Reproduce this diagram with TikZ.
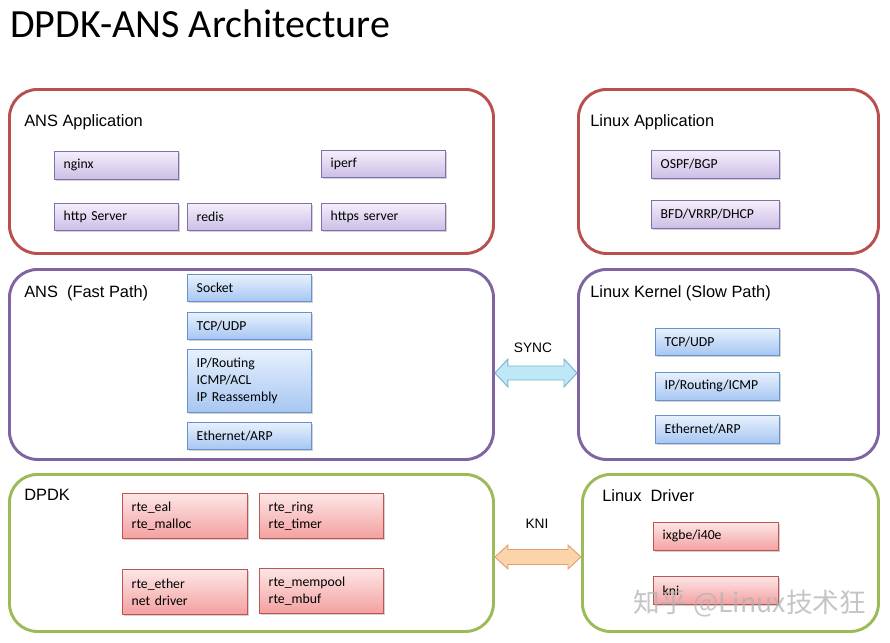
\documentclass[tikz,border=0pt]{standalone}
\usepackage{fontspec}
\setmainfont{Carlito}
\newfontfamily\arialf{Liberation Sans}
\newfontfamily\cjkf{Noto Sans CJK SC}
\usetikzlibrary{shadows,calc}
\definecolor{redB}{RGB}{185,80,78}
\definecolor{purB}{RGB}{128,100,162}
\definecolor{grnB}{RGB}{155,187,89}
\definecolor{pinB}{RGB}{130,112,170}
\definecolor{pinT}{RGB}{244,239,251}
\definecolor{pinM}{RGB}{204,190,230}
\definecolor{binB}{RGB}{105,145,205}
\definecolor{binT}{RGB}{232,241,253}
\definecolor{binM}{RGB}{166,198,242}
\definecolor{rinB}{RGB}{190,85,82}
\definecolor{rinT}{RGB}{253,230,230}
\definecolor{rinM}{RGB}{244,160,160}
\definecolor{syncF}{RGB}{190,232,246}
\definecolor{syncD}{RGB}{120,180,205}
\definecolor{kniF}{RGB}{251,212,172}
\definecolor{kniD}{RGB}{225,160,110}
\tikzset{
  big/.style={draw=#1, line width=2.2pt, rounded corners=21pt, anchor=north west},
  sz/.style 2 args={minimum width={#1*0.75pt}, minimum height={#2*0.75pt}, text width={#1*0.75pt-14pt}},
  inbox/.style={anchor=north west, inner xsep=7pt, inner ysep=0pt, align=left, font=\fontsize{10.3}{12.75}\selectfont,
     drop shadow={shadow xshift=1.2pt, shadow yshift=-1.2pt, opacity=0.35}},
  pbox/.style={inbox, draw=pinB, line width=0.6pt, top color=pinT, bottom color=pinM},
  bbox/.style={inbox, draw=binB, line width=0.6pt, top color=binT, bottom color=binM},
  rbox/.style={inbox, draw=rinB, line width=0.6pt, top color=rinT, bottom color=rinM},
  lbl/.style={anchor=west, font=\arialf\fontsize{12.3}{14}\selectfont, inner sep=0pt},
  alb/.style={font=\arialf\fontsize{10.3}{12}\selectfont, inner sep=0pt},
}
\begin{document}
\begin{tikzpicture}[x=0.75pt,y=-0.75pt]
\useasboundingbox (0,0) rectangle (890,643);
\fill[white] (0,0) rectangle (890,643);
\node[anchor=west, inner sep=0pt, font=\fontsize{30}{34}\selectfont] (title) at (10,24) {DPDK-ANS Architecture};

% big containers
\node[big=redB, minimum width=363pt, minimum height=123pt] (ansapp) at (8,88) {};
\node[big=redB, minimum width=225pt, minimum height=123pt] (linapp) at (577,88) {};
\node[big=purB, minimum width=363pt, minimum height=142.5pt] (ansfp) at (8,268) {};
\node[big=purB, minimum width=225pt, minimum height=142.5pt] (linker) at (577,268) {};
\node[big=grnB, minimum width=363pt, minimum height=117.75pt] (dpdk) at (8,473) {};
\node[big=grnB, minimum width=222pt, minimum height=117.75pt] (lindrv) at (581,473) {};

\node[lbl] (l1) at (24,122) {ANS Application};
\node[lbl] (l2) at (590,122) {Linux Application};
\node[lbl] (l3) at (24,293) {ANS\ \ (Fast Path)};
\node[lbl] (l4) at (590,293) {Linux Kernel (Slow Path)};
\node[lbl] (l5) at (24,495) {DPDK};
\node[lbl] (l6) at (602,496) {Linux\ \ Driver};

% ANS application
\node[pbox, sz={124}{28}] (nginx) at (54,151) {nginx};
\node[pbox, sz={124}{27}] (iperf) at (321,150) {iperf};
\node[pbox, sz={124}{27}] (http) at (54,203) {http Server};
\node[pbox, sz={124}{27}] (redis) at (187,203) {redis};
\node[pbox, sz={124}{27}] (https) at (321,203) {https server};
% Linux application
\node[pbox, sz={128}{28}] (ospf) at (651,150) {OSPF/BGP};
\node[pbox, sz={128}{28}] (bfd) at (651,200) {BFD/VRRP/DHCP};

% ANS fast path
\node[bbox, sz={124}{27}] (sock) at (187,274) {Socket};
\node[bbox, sz={124}{27}] (tcp1) at (187,312) {TCP/UDP};
\node[bbox, sz={124}{63}] (ip1) at (187,349) {IP/Routing\\ICMP/ACL\\IP Reassembly};
\node[bbox, sz={124}{27}] (eth1) at (187,422) {Ethernet/ARP};
% Linux kernel
\node[bbox, sz={124}{27}] (tcp2) at (655,328) {TCP/UDP};
\node[bbox, sz={124}{28}] (ip2) at (655,372) {IP/Routing/ICMP};
\node[bbox, sz={124}{28}] (eth2) at (655,415) {Ethernet/ARP};

% DPDK
\node[rbox, sz={125}{45}] (eal) at (122,493) {rte\_eal\\rte\_malloc};
\node[rbox, sz={124}{45}] (ring) at (259,493) {rte\_ring\\rte\_timer};
\node[rbox, sz={125}{45}] (ether) at (122,569) {rte\_ether\\net driver};
\node[rbox, sz={124}{45}] (mempool) at (259,568) {rte\_mempool\\rte\_mbuf};
% Linux driver
\node[rbox, sz={125}{28}] (ixgbe) at (653,522) {ixgbe/i40e};
\node[rbox, sz={125}{28}] (kni) at (653,576) {kni};

% SYNC arrow
\coordinate (s1) at (ansfp.east |- 0,373);
\coordinate (s2) at (linker.west |- 0,373);
\draw[fill=syncF, draw=syncD, line width=0.7pt, line join=miter]
  (s1) -- ++(13,-14) -- ++(0,7) -- ($(s2)+(-13,-7)$) -- ++(0,-7) -- (s2)
  -- ++(-13,14) -- ++(0,-7) -- ($(s1)+(13,7)$) -- ++(0,7) -- cycle;
\node[alb] (sync) at (533,348) {SYNC};

% KNI arrow
\coordinate (k1) at (dpdk.east |- 0,557);
\coordinate (k2) at (lindrv.west |- 0,557);
\draw[fill=kniF, draw=kniD, line width=0.7pt, line join=miter]
  (k1) -- ++(13,-12) -- ++(0,4.5) -- ($(k2)+(-13,-7.5)$) -- ++(0,-4.5) -- (k2)
  -- ++(-13,12) -- ++(0,-4.5) -- ($(k1)+(13,7.5)$) -- ++(0,4.5) -- cycle;
\node[alb] (knil) at (537,524) {KNI};

% watermark
\node[inner sep=0pt, text=black!30, opacity=0.75, font=\cjkf\fontsize{20}{24}\selectfont] (wm) at (750,604) {知乎 @Linux技术狂};
\end{tikzpicture}
\end{document}
